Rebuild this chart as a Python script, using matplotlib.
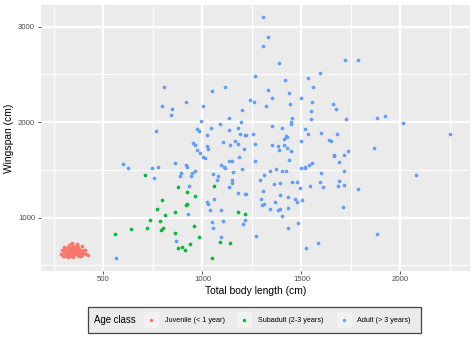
import matplotlib
matplotlib.use("Agg")
import matplotlib.pyplot as plt
from matplotlib.patches import Rectangle

plt.rcParams['font.family'] = ['Liberation Sans', 'DejaVu Sans']

# ---------------- data ----------------
juv_x = [300, 310, 320, 330, 340, 350, 360, 370, 380, 390,
         295, 305, 315, 325, 335, 345, 355, 365, 375, 385,
         310, 320, 330, 340, 350, 360, 370, 380, 290, 300,
         315, 325, 335, 345, 355, 365, 375, 395, 405, 420,
         302, 318, 332, 348, 362, 378, 392, 342, 352, 328,
         286, 308, 338, 358, 372, 386, 398, 412, 322, 344]
juv_y = [640, 655, 630, 620, 665, 645, 690, 610, 650, 700,
         600, 680, 615, 660, 640, 700, 625, 670, 595, 640,
         625, 590, 685, 605, 635, 660, 645, 610, 660, 690,
         645, 670, 600, 680, 615, 720, 650, 630, 665, 610,
         665, 630, 645, 590, 705, 675, 620, 735, 655, 710,
         625, 600, 725, 640, 690, 600, 660, 620, 695, 610]

sub_x = [712, 877, 920, 962, 1058, 795, 769, 813, 860, 918,
         923, 734, 783, 722, 638, 556, 791, 800, 860, 958,
         982, 877, 898, 910, 935, 1046, 1090, 1139, 1178, 1215]
sub_y = [1443, 1318, 1269, 1230, 1335, 1185, 1091, 1028, 1056, 1136,
         1143, 976, 965, 892, 885, 832, 871, 888, 843, 916,
         801, 679, 696, 661, 721, 581, 742, 731, 1059, 1038]

adu_x = [1304, 1329, 1307, 1386, 1718, 1786, 1595, 1263, 1418, 1531,
         1556, 1046, 1113, 1329, 807, 1437, 1352, 1238, 1262, 918,
         795, 847, 842, 1005, 1321, 1443, 1497, 1551, 1548, 1658,
         1673, 1199, 1132, 1450, 1449, 1547, 1724, 1882, 1922, 2013,
         994, 763, 1193, 1091, 971, 983, 1042, 1134, 1181, 1403,
         1352, 1446, 1520, 1532, 1599, 1677, 2249, 1021, 1191, 1215,
         1222, 1256, 1421, 1428, 1497, 1639, 1649, 1414, 950, 960,
         970, 1023, 1028, 1104, 1141, 1163, 1178, 1210, 1263, 1352,
         1383, 1386, 1410, 1428, 1449, 1439, 1734, 1663, 1666, 1713,
         1688, 1865, 990, 1005, 1014, 1133, 1149, 1183, 601, 626,
         744, 776, 756, 859, 919, 920, 890, 884, 947, 960,
         944, 934, 925, 868, 561, 1096, 1107, 1113, 1156, 1053,
         1080, 1073, 1150, 1151, 1134, 1177, 1058, 1022, 1027, 1038,
         1095, 1046, 1103, 1054, 1095, 1201, 1213, 1222, 1215, 1203,
         1272, 1267, 1290, 1310, 1307, 1295, 1302, 1312, 1339, 1370,
         1341, 1360, 1392, 1390, 1366, 1380, 1390, 1402, 1403, 1424,
         1431, 1431, 1433, 1454, 1475, 1493, 1502, 1468, 1476, 1481,
         1497, 1518, 1518, 1538, 1553, 1545, 1592, 1599, 1609, 1524,
         1583, 1686, 1691, 1713, 1713, 1710, 1784, 1882, 2076]
adu_y = [3104, 2895, 2794, 2619, 2654, 2654, 2518, 2487, 2441, 2462,
         2365, 2323, 2368, 2337, 2365, 2302, 2249, 2232, 2211, 2215,
         2166, 2138, 2071, 2166, 2166, 2190, 2249, 2215, 2117, 2190,
         2138, 2127, 2047, 2040, 2001, 2029, 2033, 2040, 2064, 1991,
         2015, 1911, 2001, 1984, 1928, 1911, 1942, 1918, 1942, 1942,
         1960, 1977, 1928, 1876, 1890, 1880, 1873, 1866, 1873, 1869,
         1869, 1873, 1852, 1848, 1803, 1817, 1803, 1820, 1778, 1764,
         1709, 1754, 1719, 1789, 1764, 1799, 1768, 1719, 1771, 1761,
         1754, 1709, 1761, 1730, 1695, 1604, 1695, 1660, 1642, 1656,
         1586, 1730, 1677, 1639, 1628, 1593, 1593, 1639, 1565, 1517,
         1517, 1534, 1412, 1569, 1551, 1534, 1468, 1440, 1464, 1492,
         1440, 1328, 1042, 752, 574, 1551, 1534, 1517, 1482, 1458,
         1436, 1394, 1394, 1366, 1318, 1262, 1195, 1161, 1143, 1084,
         1080, 958, 965, 892, 801, 1506, 1244, 1251, 976, 934,
         808, 1590, 1394, 1443, 1276, 1195, 1136, 1139, 1492, 1506,
         1094, 1352, 1366, 1237, 1168, 1080, 1087, 1017, 1485, 1492,
         1098, 892, 1216, 1377, 1377, 1307, 1185, 1192, 1168, 948,
         1517, 1534, 1517, 1555, 1576, 1335, 1377, 1471, 1318, 686,
         731, 1328, 1387, 1342, 1492, 1115, 1300, 832, 1447]

classes = ["Juvenile (< 1 year)", "Subadult (2-3 years)", "Adult (> 3 years)"]
colors = ["#F8766D", "#00BA38", "#619CFF"]
x_ticks = [500, 1000, 1500, 2000]
y_ticks = [1000, 2000, 3000]

# ---------------- figure ----------------
W, H = 474, 338
fig = plt.figure(figsize=(W / 100, H / 100), dpi=100)
fig.patch.set_facecolor("white")

L, R, T, B = 40.7, 470, 5, 270.7
ax = fig.add_axes([L / W, 1 - B / H, (R - L) / W, (B - T) / H])
ax.set_facecolor("#EBEBEB")
for s in ax.spines.values():
    s.set_visible(False)

ax.set_xlim(183, 2351)
ax.set_ylim(445, 3227)
ax.set_xticks(x_ticks)
ax.set_yticks(y_ticks)
ax.set_xticks([250, 750, 1250, 1750, 2250], minor=True)
ax.set_yticks([500, 1500, 2500], minor=True)
ax.grid(which="major", color="white", linewidth=1.7)
ax.grid(which="minor", color="white", linewidth=0.8)
ax.set_axisbelow(True)
ax.tick_params(which="major", length=2.5, width=0.6, color="#333333",
               labelsize=5.6, labelcolor="#4D4D4D", pad=1.5)
ax.tick_params(which="minor", length=0)

data = [(juv_x, juv_y), (sub_x, sub_y), (adu_x, adu_y)]
for (xs, ys), c in zip(data, colors):
    ax.scatter(xs, ys, s=7, color=c, linewidths=0, zorder=3)

ax.set_xlabel("Total body length (cm)", fontsize=7.4, labelpad=2)
ax.set_ylabel("Wingspan (cm)", fontsize=7.4, labelpad=3)

# ---------------- legend (drawn in pixel coordinates) ----------------
lg = fig.add_axes([0, 0, 1, 1], zorder=5)
lg.set_xlim(0, W)
lg.set_ylim(H, 0)
lg.axis("off")
lg.patch.set_alpha(0)
lg.add_patch(Rectangle((88.5, 307), 332.5, 25.5, facecolor="#EBEBEB",
                       edgecolor="#444444", linewidth=0.9))
lg.text(94, 320, "Age class", fontsize=6.9, va="center", ha="left")
key_x = [144, 237, 337]
txt_x = [165.5, 257.7, 356.7]
for kx, tx, c, lab in zip(key_x, txt_x, colors, classes):
    lg.add_patch(Rectangle((kx, 312), 15, 16, facecolor="#F2F2F2",
                           edgecolor="none"))
    lg.scatter([kx + 7.5], [320], s=6, color=c, linewidths=0)
    lg.text(tx, 320, lab, fontsize=5.2, va="center", ha="left")

fig.savefig("out.png", dpi=100)
